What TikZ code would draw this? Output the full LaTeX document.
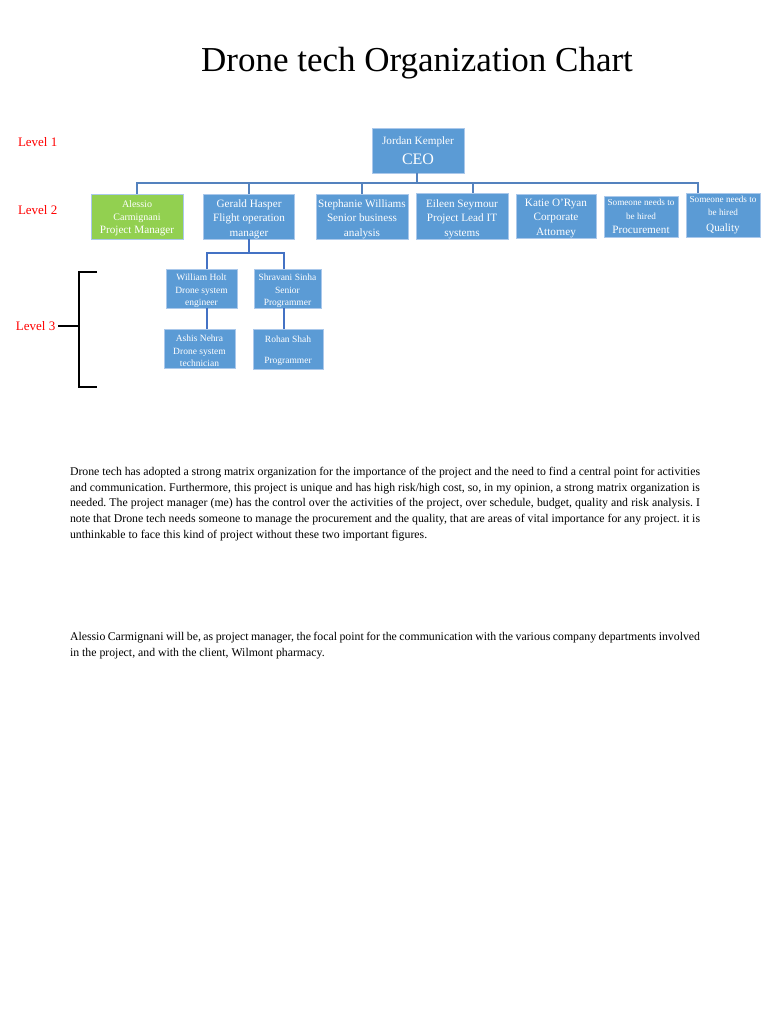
\documentclass[tikz,border=0pt]{standalone}
\usepackage{fontspec}
\setmainfont{Liberation Serif}
\usepackage{tikz}
\usetikzlibrary{positioning}

\definecolor{boxblue}{RGB}{91,155,213}
\definecolor{boxgreen}{RGB}{146,208,80}
\definecolor{boxedge}{RGB}{170,200,235}
\definecolor{linkblue}{RGB}{84,130,190}
\definecolor{subblue}{RGB}{68,114,196}

\newcommand{\sz}[2]{{\fontsize{#1}{#1}\selectfont #2}}
\newcommand{\lift}[1]{\rule{0pt}{#1}}

\begin{document}
\frenchspacing
\begin{tikzpicture}[
    x=1pt, y=-1pt,
    every node/.style={inner sep=0pt, outer sep=0pt},
    box/.style={rectangle, fill=boxblue, draw=boxedge, line width=0.8pt, text=white,
      align=center, font=\fontsize{11.2}{14.5}\selectfont},
    smallbox/.style={box, font=\fontsize{9.5}{12.5}\selectfont},
    link/.style={draw=linkblue, line width=1.1pt},
    sublink/.style={draw=subblue, line width=1.3pt},
    lvl/.style={anchor=west, text=red, font=\fontsize{13}{13}\selectfont},
    body/.style={anchor=north west, text width=630pt, align=justify,
      font=\fontsize{11.8}{15.8}\selectfont}
  ]
  \useasboundingbox (0,0) rectangle (768,1024);

  % Title
  \node[anchor=base, font=\fontsize{35}{35}\selectfont] (title) at (417,72) {Drone tech Organization Chart};

  % Level labels
  \node[lvl] (lvlone) at (18,142) {Level 1};
  \node[lvl] (lvltwo) at (18,210) {Level 2};
  \node[lvl] (lvlthree) at (16,326) {Level 3};

  % Root node
  \node[box, minimum width=92pt, minimum height=45pt] (ceo) at (418,150.5)
    {Jordan Kempler\\[6pt]\sz{16}{CEO}};

  % Level 2
  \node[box, fill=boxgreen, minimum width=92pt, minimum height=45pt] (alessio) at (137,216.5)
    {\sz{10}{\lift{10pt}Alessio}\\[-1pt]\sz{10}{Carmignani}\\[-2pt]Project Manager};
  \node[box, minimum width=91pt, minimum height=45pt] (gerald) at (249,216.5)
    {\lift{12.8pt}Gerald Hasper\\Flight operation\\manager};
  \node[box, minimum width=92pt, minimum height=45pt] (stephanie) at (362,216.5)
    {\lift{13.4pt}Stephanie Williams\\Senior business\\analysis};
  \node[box, minimum width=92pt, minimum height=46pt] (eileen) at (462,216)
    {\lift{13.8pt}Eileen Seymour\\Project Lead IT\\systems};
  \node[box, minimum width=80pt, minimum height=44pt] (katie) at (556,216)
    {\lift{12.4pt}Katie O'Ryan\\Corporate\\Attorney};
  \node[box, minimum width=74pt, minimum height=41pt] (procurement) at (641,216.5)
    {\sz{9.2}{Someone needs to}\\[-1pt]\sz{9.2}{be hired}\\[0pt]Procurement};
  \node[box, minimum width=74pt, minimum height=44pt] (quality) at (723,215)
    {\sz{9.2}{Someone needs to}\\[-1pt]\sz{9.2}{be hired}\\[1pt]Quality};

  % Level 3 under Gerald
  \node[smallbox, minimum width=71pt, minimum height=39pt] (william) at (201.5,288.5)
    {\lift{11.6pt}William Holt\\Drone system\\engineer};
  \node[smallbox, minimum width=67pt, minimum height=39pt] (shravani) at (287.5,288.5)
    {\lift{11.6pt}Shravani Sinha\\Senior\\Programmer};
  \node[smallbox, minimum width=71pt, minimum height=39pt] (ashis) at (199.5,348.5)
    {\lift{11.6pt}Ashis Nehra\\Drone system\\technician};
  \node[smallbox, minimum width=70pt, minimum height=40pt] (rohan) at (288,349)
    {\lift{9.6pt}Rohan Shah\\[8pt]Programmer};

  % Connectors, level 1 to level 2
  \coordinate (bus) at (417,183);
  \coordinate (qdrop) at (698,193);
  \draw[link] (ceo.south -| bus) -- (bus);
  \draw[link] (alessio.north) |- (qdrop |- bus) -- (qdrop);
  \foreach \n in {gerald, stephanie}
    \draw[link] (\n.north) -- (\n.north |- bus);
  \draw[link] ([xshift=11pt]eileen.north) -- ([xshift=11pt]eileen.north |- bus);

  % Connectors, level 2 to level 3
  \coordinate (split) at (249,253);
  \coordinate (wtop) at (207,269);
  \coordinate (stop) at (284,269);
  \draw[sublink] (gerald.south) -- (split);
  \draw[sublink] (wtop) |- (split) -| (stop);
  \draw[sublink] (wtop |- william.south) -- (wtop |- ashis.north);
  \draw[sublink] (stop |- shravani.south) -- (stop |- rohan.north);

  % Bracket for level 3
  \coordinate (brtop) at (79,272);
  \coordinate (brbot) at (79,387);
  \draw[line width=1.2pt] (97,272) -- (brtop) -- (brbot) -- (97,387);
  \draw[line width=1.2pt] (lvlthree.east) ++(3,0) -- (lvlthree.east -| brtop);

  % Text below the chart
  \node[body] (parone) at (70,467)
    {Drone tech has adopted a strong matrix organization for the importance of the project and the need to find a central point for activities\linebreak
     and communication. Furthermore, this project is unique and has high risk/high cost, so, in my opinion, a strong matrix organization is\linebreak
     needed. The project manager (me) has the control over the activities of the project, over schedule, budget, quality and risk analysis. I\linebreak
     note that Drone tech needs someone to manage the procurement and the quality, that are areas of vital importance for any project. it is\linebreak
     unthinkable to face this kind of project without these two important figures.};
  \node[body] (partwo) at (70,632)
    {Alessio Carmignani will be, as project manager, the focal point for the communication with the various company departments involved\linebreak
     in the project, and with the client, Wilmont pharmacy.};

\end{tikzpicture}
\end{document}
